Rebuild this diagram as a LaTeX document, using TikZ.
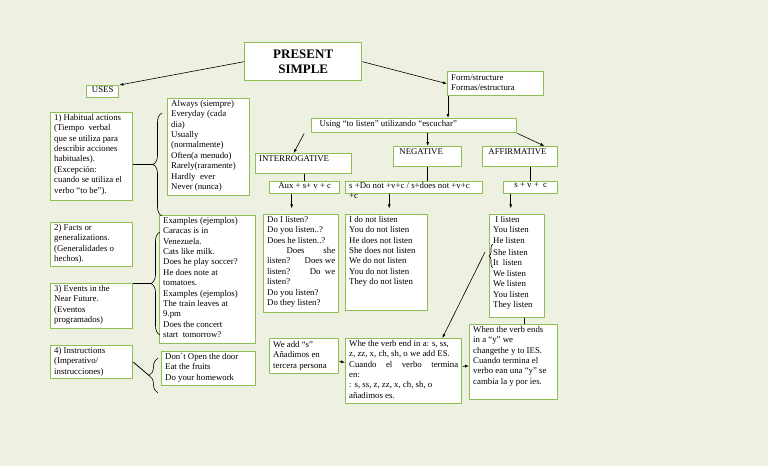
\documentclass[tikz,border=0pt]{standalone}
\usepackage{fontspec}
\setmainfont{Liberation Serif}
\usetikzlibrary{arrows.meta,decorations.pathreplacing}
\definecolor{bg}{HTML}{EEF0E2}
\definecolor{bgreen}{HTML}{8CC152}
\newcommand\bxn[7]{\node[bx,#6,minimum width=#4pt,minimum height=#5pt] (#1) at (#2,#3)
  {\parbox[c][\dimexpr#5pt-3pt\relax][t]{\dimexpr#4pt-7pt\relax}{\fontsize{8.8}{10.4}\selectfont#7}};}
\begin{document}
\begin{tikzpicture}[x=1pt,y=-1pt,
  bx/.style={draw=bgreen,line width=1.4pt,fill=white,inner sep=0pt,anchor=north west},
  ar/.style={-{Latex[length=4pt,width=3pt]},line width=0.6pt},
  ln/.style={line width=0.8pt},
  br/.style={decorate,decoration={brace,amplitude=9pt},line width=0.6pt}]
\fill[bg] (0,0) rectangle (768,466);
\useasboundingbox (0,0) rectangle (768,466);
\node[bx,minimum width=117pt,minimum height=38pt,align=center,font=\bfseries\fontsize{13}{15}\selectfont] (ps) at (244,42) {PRESENT\\SIMPLE};
\bxn{uses}{86}{85}{32}{12}{}{\centering\vspace*{-1pt}USES}
\bxn{form}{447}{71}{96}{24}{}{\vspace*{1pt}Form/structure\\Formas/estructura}
\bxn{using}{311}{118}{205}{14}{}{\vspace*{0pt}\ \ Using “to listen” utilizando “escuchar”}
\bxn{int}{255}{153}{96}{20}{}{INTERROGATIVE}
\bxn{neg}{393}{146}{68}{20}{}{\ NEGATIVE}
\bxn{aff}{482}{146}{75}{20}{}{\ AFFIRMATIVE}
\bxn{aux}{269}{181}{70}{12}{}{\centering\vspace*{-1pt}Aux + s+ v + c}
\bxn{sdo}{345}{181}{137}{12}{}{\vspace*{-1pt}s +Do not +v+c / s+does not +v+c\\+c}
\bxn{svc}{503}{181}{54}{12}{}{\centering\vspace*{-1pt}s + v +\ \ c}
\bxn{q}{263}{214}{75}{98}{}{Do I listen?\\Do you listen..?\\Does he listen..?\\\hspace*{2.2em}Does\hfill she\\listen?\hfill Does we\\listen?\hfill Do\ \ we\\listen?\\Do you listen?\\Do they listen?}
\bxn{n}{345}{214}{82}{96}{}{I do not listen\\You do not listen\\He does not listen\\She does not listen\\\ We do not listen\\You do not listen\\They do not listen}
\bxn{a}{489}{214}{55}{103}{}{\ I listen\\\ You listen\\\ \ He listen\\[2pt]She listen\\It\ \ listen\\We listen\\We listen\\You listen\\They listen}
\bxn{wa}{269}{338}{69}{35}{}{\vspace*{1pt}We add “s”\\Añadimos en\\tercera persona}
\bxn{wh}{345}{338}{116}{65}{}{Whe the verb end in a: s, ss,\\z, zz, x, ch, sh, o we add ES.\\\ \ Cuando\hfill el\hfill verbo\hfill termina\\en:\\: s, ss, z, zz, x, ch, sh, o\\\ añadimos es.}
\bxn{wy}{469}{324}{88}{75}{}{When the verb ends\\in a “y” we\\changethe y to IES.\\Cuando termina el\\verbo ean una “y” se\\\ cambia la y por ies.}
\bxn{u1}{50}{112}{82}{88}{}{1) Habitual actions\\\ (Tiempo\ \ verbal\\que se utiliza para\\describir acciones\\habituales).\\(Excepción:\\cuando se utiliza el\\\ verbo “to be”).}
\bxn{alw}{167}{98}{82}{97}{}{Always (siempre)\\\ Everyday (cada\\dia)\\Usually\\(normalmente)\\Often(a menudo)\\Rarely(raramente)\\\ \ Hardly\ \ ever\\Never (nunca)}
\bxn{u2}{50}{222}{82}{44}{}{2) Facts or\\generalizations.\\(Generalidades o\\\ hechos).}
\bxn{u3}{50}{283}{82}{45}{}{3) Events in the\\\ Near Future.\\(Eventos\\programados)}
\bxn{ex}{159}{215}{96}{128}{}{Examples (ejemplos)\\\ Caracas is in\\Venezuela.\\Cats like milk.\\Does he play soccer?\\\ He does note at\\tomatoes.\\\ Examples (ejemplos)\\\ The train leaves at\\9.pm\\\ Does the concert\\start\ \ tomorrow?}
\bxn{u4}{50}{345}{82}{33}{}{4) Instructions\\\ (Imperativo/\\instrucciones)}
\bxn{dn}{161}{351}{94}{34}{}{Don´t Open the door\\\ Eat the fruits\\Do your homework}
% connectors
\draw[ar] (ps.west) -- (uses.north east);
\draw[ar] (ps.east) -- (form.west);
\draw[ar] (form.south west) ++(1,0) coordinate (f1) -- (f1 |- using.north);
\draw[ar] ([xshift=-110pt]using.south) -- ([xshift=-10pt]int.north);
\draw[ar] (using.south -| neg.north) -- (neg.north);
\draw[ar] (using.south east) -- ([xshift=-14pt]aff.north east);
\draw[ln] (int.south -| aux.north) -- (aux.north);
\draw[ln] (neg.south) -- (neg.south |- sdo.north);
\draw[ln] ([xshift=10pt]aff.south) -- ([xshift=10pt]aff.south |- svc.north);
\draw[ar] ([xshift=-13pt]aux.south) -- ++(0,14);
\draw[ar] ([xshift=-25pt]sdo.south) -- ++(0,14);
\draw[ar] ([xshift=-20pt]svc.south) -- ++(0,14);
\draw[ln] ([xshift=7pt]a.south) -- ([xshift=7pt]a.south |- wy.north);
\coordinate (bt) at (485,252);
\draw[ar] (bt) -- ([xshift=-20pt]wh.north east);
\draw[ar] (wa) -- (wh);
\draw[ar] (wh) -- (wy);
% braces
\draw[br,decoration={amplitude=4pt}] (493,268) -- (493,244);
\draw[br] (162,216) -- (162,113);
\draw[ln] (u1.east |- 0,164.5) -- (153,164.5);
\draw[br] (160,335) -- (160,232);
\draw[ln] (u2.east |- 0,283.5) -- (151,283.5);
\draw[br] (158,393) -- (158,358);
\draw[ln] (u4.east) -- (149,375.5);
\end{tikzpicture}
\end{document}
